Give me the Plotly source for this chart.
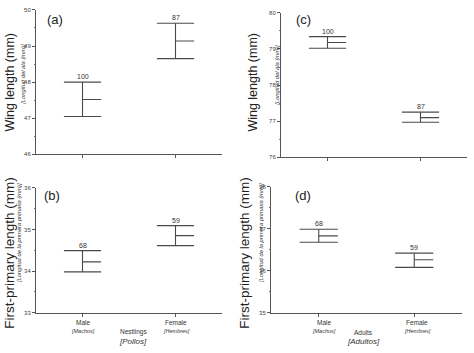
import plotly.graph_objects as go

# ---------------- data ----------------
categories = ["Male", "Female"]
cat_sub = ["[Machos]", "[Hembres]"]

# (a) nestlings wing length
a_mean = [47.52, 49.14]
a_upper = [48.00, 49.63]
a_lower = [47.05, 48.65]
a_n = ["100", "87"]

# (b) nestlings first-primary length
b_mean = [34.22, 34.85]
b_upper = [34.49, 35.09]
b_lower = [33.98, 34.61]
b_n = ["68", "59"]

# (c) adults wing length
c_mean = [79.18, 77.10]
c_upper = [79.34, 77.25]
c_lower = [79.02, 76.97]
c_n = ["100", "87"]

# (d) adults first-primary length
d_mean = [36.83, 36.26]
d_upper = [36.99, 36.42]
d_lower = [36.68, 36.08]
d_n = ["68", "59"]

a_ticks = [46, 47, 48, 49, 50]
b_ticks = [33, 34, 35, 36]
c_ticks = [76, 77, 78, 79, 80]
d_ticks = [35, 36, 37, 38]

W, H = 474, 353
def fx(p):
    return p / W
def fy(p):
    return 1 - p / H

FONT = "Liberation Sans, Arial, sans-serif"
LC = "#4a4a4a"

fig = go.Figure()

def note(x, y, text, size, color="#333", angle=0, xref="paper", yref="paper", yanchor="middle"):
    fig.add_annotation(x=x, y=y, xref=xref, yref=yref, text=text, showarrow=False,
                       textangle=angle, xanchor="center", yanchor=yanchor,
                       font=dict(family=FONT, size=size, color=color))

panels = [
    ("", a_mean, a_upper, a_lower, a_n, a_ticks, 36, 222, 7, 154),
    ("2", b_mean, b_upper, b_lower, b_n, b_ticks, 36, 222, 188, 315),
    ("3", c_mean, c_upper, c_lower, c_n, c_ticks, 281, 467, 10, 157),
    ("4", d_mean, d_upper, d_lower, d_n, d_ticks, 271, 462, 187, 315),
]

xpos = [0.5, 1.5]
hw = 0.2
for (sfx, mean, up, lo, ns, ticks, x0, x1, yt, yb) in panels:
    xs, ys = [], []
    for i, xc in enumerate(xpos):
        xs += [xc, xc, None, xc - hw, xc + hw, None, xc - hw, xc + hw, None, xc, xc + hw, None]
        ys += [lo[i], up[i], None, up[i], up[i], None, lo[i], lo[i], None, mean[i], mean[i], None]
    fig.add_trace(go.Scatter(x=xs, y=ys, mode="lines", line=dict(color=LC, width=1.1),
                             xaxis="x" + sfx, yaxis="y" + sfx, showlegend=False, hoverinfo="skip"))
    for i, xc in enumerate(xpos):
        note(xc, up[i], ns[i], 7, "#333", 0, "x" + sfx, "y" + sfx, "bottom")
    xa = dict(domain=[fx(x0), fx(x1)], range=[0, 2], showline=True, linecolor="#555", linewidth=1,
              ticks="outside", ticklen=3, tickcolor="#555", tickvals=xpos, showticklabels=False,
              showgrid=False, zeroline=False, fixedrange=True, anchor="y" + sfx)
    ya = dict(domain=[fy(yb), fy(yt)], range=[ticks[0], ticks[-1]], showline=True, linecolor="#555",
              linewidth=1, ticks="outside", ticklen=3, tickcolor="#555", tickvals=ticks,
              tickfont=dict(family=FONT, size=6, color="#444"), showgrid=False, zeroline=False,
              minor=dict(ticks="outside", ticklen=1.5, dtick=0.5, tickcolor="#777"), fixedrange=True,
              anchor="x" + sfx)
    fig.update_layout(**{"xaxis" + sfx: xa, "yaxis" + sfx: ya})

# panel letters
for txt, x, y in [("(a)", 55, 17), ("(b)", 52, 196), ("(c)", 303, 17), ("(d)", 303, 196)]:
    note(fx(x), fy(y), txt, 13, "#222")

# y titles
for txt, sub, x, xs_, yc, ysub, size in [
    ("Wing length (mm)", "[Longitud del ala (mm)]", 10, 23, 81, 73, 12.5),
    ("First-primary length (mm)", "[Longitud de la primera primaria (mm)]", 10, 19, 254, 234, 13.5),
    ("Wing length (mm)", "[Longitud del ala (mm)]", 253, 277, 81, 74, 12.5),
    ("First-primary length (mm)", "[Longitud de la primera primaria (mm)]", 245, 261, 254, 234, 13.5),
]:
    note(fx(x), fy(yc), txt, size, "#222", -90)
    note(fx(xs_), fy(ysub), "<i>" + sub + "</i>", 5.8, "#333", -90)

# category labels
for (mx, fxp, mid, grp, gsub) in [(83, 176, 133, "Nestlings", "[Pollos]"), (324, 417, 363, "Adults", "[Adultos]")]:
    for xx, c, s in [(mx, categories[0], cat_sub[0]), (fxp, categories[1], cat_sub[1])]:
        note(fx(xx), fy(325), c, 6.5)
        note(fx(xx), fy(334), "<i>" + s + "</i>", 5.5)
    note(fx(mid), fy(335), grp, 6.5)
    note(fx(mid), fy(344), "<i>" + gsub + "</i>", 8)

fig.update_layout(width=W, height=H, margin=dict(l=0, r=0, t=0, b=0),
                  paper_bgcolor="white", plot_bgcolor="white", showlegend=False)

fig.write_html("out.html")
